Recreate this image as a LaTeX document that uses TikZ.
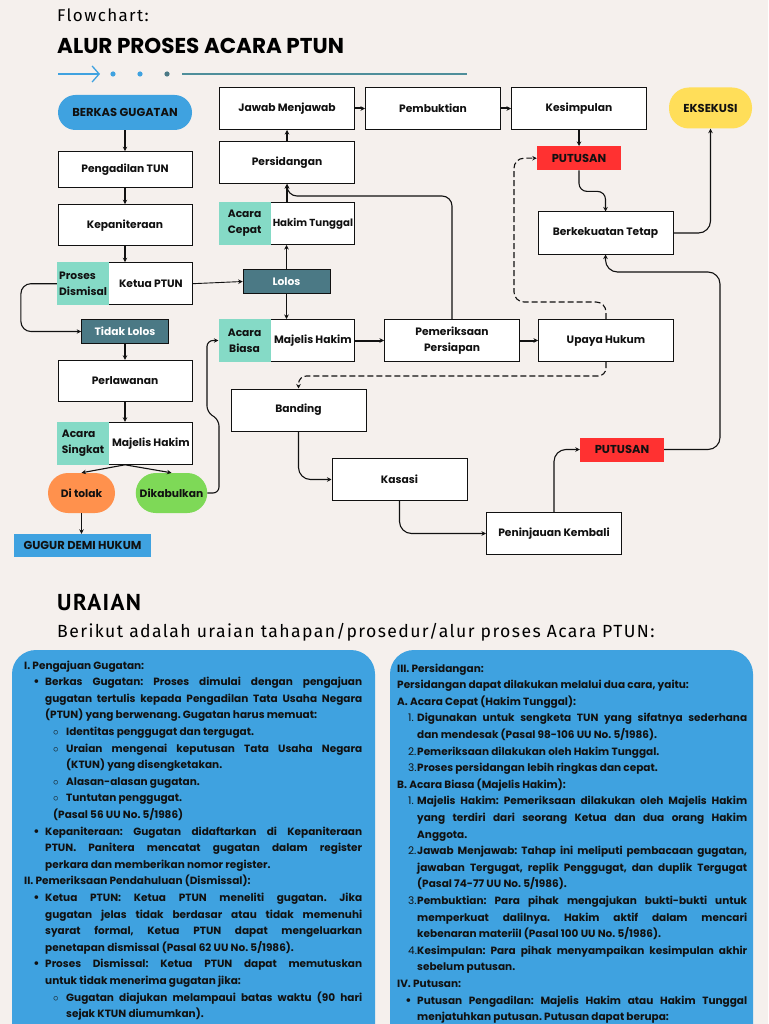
\documentclass[tikz,border=0pt]{standalone}
\usepackage{fontspec}
\setmainfont{Poppins}
\newfontfamily\kickerfont{Fira Sans}[LetterSpace=8]
\newfontfamily\headfont{PT Sans}[LetterSpace=6]
\newfontfamily\symfont{DejaVu Sans}
\usepackage{xcolor}
\usetikzlibrary{arrows.meta,positioning,calc}
\definecolor{pagebg}{HTML}{F5F0ED}
\definecolor{skyblue}{HTML}{3FA2E0}
\definecolor{deepteal}{HTML}{4B7985}
\definecolor{ruleteal}{HTML}{4E8E9A}
\definecolor{mintbg}{HTML}{85DAC6}
\definecolor{orangebg}{HTML}{FF914D}
\definecolor{greenbg}{HTML}{7ED957}
\definecolor{yellowbg}{HTML}{FFDE59}
\definecolor{alertred}{HTML}{FF3131}
\definecolor{inkc}{HTML}{111111}
\frenchspacing
% one line of the text panels, stretched or plain
\newcommand{\rowj}[5]{\node[row] (#1) at (#2,#3) {\makebox[#4pt][s]{#5}};}
\newcommand{\rowl}[4]{\node[row] (#1) at (#2,#3) {#4};}
\newcommand{\dotb}{\makebox[12pt][l]{{\symfont •}}}
\newcommand{\ringb}{\makebox[13pt][l]{$\circ$}}
\newcommand{\numb}[1]{\makebox[9pt][l]{\mdseries #1}}

\begin{document}
\begin{tikzpicture}[x=1pt,y=-1pt,
		lbl/.style={font=\bfseries\fontsize{10.7}{16}\selectfont,text=inkc},
		caps/.style={font=\bfseries\fontsize{11.5}{14}\selectfont},
		box/.style={lbl,draw=inkc,line width=1pt,fill=white,minimum width=135pt,
				minimum height=42pt,inner sep=2pt,align=center},
		pill/.style={lbl,minimum height=40pt,inner sep=4pt,rounded corners=20pt},
		part/.style={lbl,fill=mintbg,minimum width=52pt,minimum height=43pt,inner sep=2pt,
				anchor=west,align=center},
		gate/.style={lbl,draw=inkc,line width=0.6pt,fill=deepteal,text=white,
				minimum width=87pt,minimum height=24pt,inner sep=1pt},
		verdict/.style={lbl,caps,fill=alertred,minimum width=84pt,minimum height=24pt,inner sep=1pt},
		ln/.style={-{Stealth[length=4.5pt,width=4.5pt]},draw=inkc,line width=1.1pt},
		heavy/.style={ln,line width=2pt},
		appeal/.style={ln,dash pattern=on 6pt off 3pt},
		row/.style={anchor=base west,inner sep=0pt,font=\bfseries\fontsize{10.5}{12}\selectfont,text=inkc}
		]
		\useasboundingbox (0,0) rectangle (768,1024);
		\fill[pagebg] (0,0) rectangle (768,1024);
		\clip (0,0) rectangle (768,1024);

		% header
		\node[anchor=west,inner sep=0pt,font=\kickerfont\fontsize{17}{20}\selectfont] (kicker) at (57,15) {Flowchart:};
		\node[anchor=west,inner sep=0pt,font=\bfseries\fontsize{21.5}{24}\selectfont] (title) at (57,46) {ALUR PROSES ACARA PTUN};
		\draw[skyblue,line width=1.3pt,-{Straight Barb[length=7pt,width=16pt]}] (58,74) -- (100,74);
		\fill[skyblue] (113,74) circle (2.6);
		\fill[skyblue] (140,74) circle (2.6);
		\fill[deepteal] (167,74) circle (2.6);
		\draw[ruleteal,line width=1.3pt] (182,74) -- (467,74);

		% left column
		\node[pill,caps,fill=skyblue,minimum width=134pt,minimum height=35pt,rounded corners=17.5pt] (berkas) at (125,112.5) {BERKAS GUGATAN};
		\node[box,minimum width=134pt,minimum height=36pt,below=21pt of berkas] (pengadilan) {Pengadilan TUN};
		\node[box,minimum width=134pt,minimum height=41pt,below=16pt of pengadilan] (kepaniteraan) {Kepaniteraan};
		\node[box,minimum width=134pt,below=16pt of kepaniteraan] (ketua) {};
		\node[part,align=left] (dismisal) at ([xshift=-0.6pt]ketua.west) {Proses\\Dismisal};
		\node[lbl] (ketuaname) at ($(dismisal.east)!.5!(ketua.east)$) {Ketua PTUN};
		\node[gate,below=14pt of ketua] (tidaklolos) {Tidak Lolos};
		\node[box,minimum width=134pt,minimum height=41pt,below=16pt of tidaklolos] (perlawanan) {Perlawanan};
		\node[box,minimum width=134pt,below=20pt of perlawanan] (singkat) {};
		\node[part,align=left] (singkattag) at ([xshift=-0.6pt]singkat.west) {Acara\\Singkat};
		\node[lbl] (singkatname) at ($(singkattag.east)!.5!(singkat.east)$) {Majelis Hakim};
		\node[pill,fill=orangebg,minimum width=67pt] (ditolak) at (81.5,493) {Di tolak};
		\node[pill,fill=greenbg,minimum width=69pt] (dikabulkan) at (171.5,493) {Dikabulkan};
		\node[lbl,caps,fill=skyblue,minimum width=137pt,minimum height=23pt,inner sep=1pt] (gugur) at (82.5,545.5) {GUGUR DEMI HUKUM};

		% middle and right
		\node[box] (tunggal) at (287,223.5) {};
		\node[part] (cepat) at ([xshift=-0.6pt]tunggal.west) {Acara\\Cepat};
		\node[lbl,font=\bfseries\fontsize{10.2}{14}\selectfont] (tunggalname) at ($(cepat.east)!.5!(tunggal.east)$) {Hakim Tunggal};
		\node[box,above=18pt of tunggal] (persidangan) {Persidangan};
		\node[box,above=11pt of persidangan] (jawab) {Jawab Menjawab};
		\node[box,right=10pt of jawab] (pembuktian) {Pembuktian};
		\node[box,right=10pt of pembuktian] (kesimpulan) {Kesimpulan};
		\node[pill,caps,fill=yellowbg,minimum width=83pt,minimum height=41pt] (eksekusi) at (710.5,108) {EKSEKUSI};
		\node[verdict,below=16pt of kesimpulan] (putusanatas) {PUTUSAN};
		\node[box] (berkekuatan) at (605.5,233) {Berkekuatan Tetap};
		\node[gate] (lolos) at (286.5,281.5) {Lolos};
		\node[box] (biasa) at (287,340.5) {};
		\node[part] (biasatag) at ([xshift=-0.6pt]biasa.west) {Acara\\Biasa};
		\node[lbl] (biasaname) at ($(biasatag.east)!.5!(biasa.east)$) {Majelis Hakim};
		\node[box,right=29pt of biasa] (pemeriksaan) {Pemeriksaan\\Persiapan};
		\node[box,right=18pt of pemeriksaan] (upaya) {Upaya Hukum};
		\node[box] (banding) at (298.5,410) {Banding};
		\node[box] (kasasi) at (399.5,479.5) {Kasasi};
		\node[box] (peninjauan) at (554,533.5) {Peninjauan Kembali};
		\node[verdict] (putusanbawah) at (622,449.5) {PUTUSAN};

		\draw[ln] (berkas) -- (pengadilan);
		\draw[ln] (pengadilan) -- (kepaniteraan);
		\draw[ln] (kepaniteraan) -- (ketua);
		\draw[ln,rounded corners=10pt] (dismisal.west) -- ++(-36,0) |- (tidaklolos.west);
		\draw[ln] (tidaklolos) -- (perlawanan);
		\draw[ln] (perlawanan) -- (singkat);
		\draw[ln] (singkat.south) -- (ditolak.north);
		\draw[ln] (singkat.south) -- (dikabulkan.north);
		\draw[ln] (ditolak.south) -- (ditolak.south |- gugur.north);
		\draw[ln,rounded corners=6pt] (dikabulkan.east) -| (219,420) -- (207,412) |- (biasatag.west);
		\draw[ln,line width=0.9pt] (ketua.east) -- (lolos.west);
		\draw[ln] (lolos.north) -- (lolos.north |- tunggal.south);
		\draw[ln] (lolos.south) -- (lolos.south |- biasa.north);
		\draw[ln] (tunggal.north) -- (tunggal.north |- persidangan.south);
		\draw[ln] (persidangan) -- (jawab);
		\draw[heavy] (jawab) -- (pembuktian);
		\draw[heavy] (pembuktian) -- (kesimpulan);
		\draw[ln] (kesimpulan) -- (putusanatas);
		\draw[ln,rounded corners=8pt] (putusanatas.south) -- ++(0,21) -| (berkekuatan.north);
		\draw[ln,rounded corners=12pt] (berkekuatan.east) -| (eksekusi.south);
		\draw[ln,rounded corners=10pt] (pemeriksaan.north) -- ++(0,-123) -| (persidangan.south);
		\draw[heavy] (biasa) -- (pemeriksaan);
		\draw[heavy] (pemeriksaan) -- (upaya);
		\draw[appeal,rounded corners=10pt] (upaya.north) |- (514,302) |- (putusanatas.west);
		\draw[appeal,rounded corners=8pt] (upaya.south) -- ++(0,14) -| (banding.north);
		\draw[ln,rounded corners=12pt] (banding.south) |- (kasasi.west);
		\draw[ln,rounded corners=12pt] (kasasi.south) |- (peninjauan.west);
		\draw[ln,rounded corners=12pt] (peninjauan.north) |- (putusanbawah.west);
		\draw[ln,rounded corners=12pt] (putusanbawah.east) -| (720,272) -| (berkekuatan.south);

		% uraian
		\node[anchor=west,inner sep=0pt,font=\headfont\bfseries\fontsize{23}{26}\selectfont] (uraian) at (57,602) {URAIAN};
		\node[anchor=west,inner sep=0pt,font=\kickerfont\fontsize{17.6}{20}\selectfont] (intro) at (57,632) {Berikut adalah uraian tahapan/prosedur/alur proses Acara PTUN:};
		\fill[skyblue,rounded corners=24pt] (12,650) rectangle (375,1070);
		\fill[skyblue,rounded corners=24pt] (390,650) rectangle (753,1070);

		\rowl{u1}{24}{669.0}{I. Pengajuan Gugatan:}
		\rowj{u2}{33}{685.6}{329}{\dotb Berkas Gugatan: Proses dimulai dengan pengajuan}
		\rowj{u3}{45}{702.2}{317}{gugatan tertulis kepada Pengadilan Tata Usaha Negara}
		\rowl{u4}{45}{718.8}{(PTUN) yang berwenang. Gugatan harus memuat:}
		\rowl{u5}{53}{735.4}{\ringb Identitas penggugat dan tergugat.}
		\rowj{u6}{53}{752.0}{309}{\ringb Uraian mengenai keputusan Tata Usaha Negara}
		\rowl{u7}{66}{768.6}{(KTUN) yang disengketakan.}
		\rowl{u8}{53}{785.2}{\ringb Alasan-alasan gugatan.}
		\rowl{u9}{53}{801.8}{\ringb Tuntutan penggugat.}
		\rowl{u10}{53}{818.4}{(Pasal 56 UU No. 5/1986)}
		\rowj{u11}{33}{835.0}{329}{\dotb Kepaniteraan: Gugatan didaftarkan di Kepaniteraan}
		\rowj{u12}{45}{851.6}{317}{PTUN. Panitera mencatat gugatan dalam register}
		\rowl{u13}{45}{868.2}{perkara dan memberikan nomor register.}
		\rowl{u14}{24}{884.8}{II. Pemeriksaan Pendahuluan (Dismissal):}
		\rowj{u15}{33}{901.4}{329}{\dotb Ketua PTUN: Ketua PTUN meneliti gugatan. Jika}
		\rowj{u16}{45}{918.0}{317}{gugatan jelas tidak berdasar atau tidak memenuhi}
		\rowj{u17}{45}{934.6}{317}{syarat formal, Ketua PTUN dapat mengeluarkan}
		\rowl{u18}{45}{951.2}{penetapan dismissal (Pasal 62 UU No. 5/1986).}
		\rowj{u19}{33}{967.8}{329}{\dotb Proses Dismissal: Ketua PTUN dapat memutuskan}
		\rowl{u20}{45}{984.4}{untuk tidak menerima gugatan jika:}
		\rowj{u21}{53}{1001.0}{309}{\ringb Gugatan diajukan melampaui batas waktu (90 hari}
		\rowl{u22}{66}{1017.6}{sejak KTUN diumumkan).}

		\rowl{v1}{397}{672.0}{III. Persidangan:}
		\rowl{v2}{397}{688.6}{Persidangan dapat dilakukan melalui dua cara, yaitu:}
		\rowl{v3}{397}{705.2}{A. Acara Cepat (Hakim Tunggal):}
		\rowj{v4}{408}{721.8}{339}{\numb{1.}Digunakan untuk sengketa TUN yang sifatnya sederhana}
		\rowl{v5}{417}{738.4}{dan mendesak (Pasal 98-106 UU No. 5/1986).}
		\rowl{v6}{408}{755.0}{\numb{2.}Pemeriksaan dilakukan oleh Hakim Tunggal.}
		\rowl{v7}{408}{771.6}{\numb{3.}Proses persidangan lebih ringkas dan cepat.}
		\rowl{v8}{397}{788.2}{B. Acara Biasa (Majelis Hakim):}
		\rowj{v9}{408}{804.8}{339}{\numb{1.}Majelis Hakim: Pemeriksaan dilakukan oleh Majelis Hakim}
		\rowj{v10}{417}{821.4}{330}{yang terdiri dari seorang Ketua dan dua orang Hakim}
		\rowl{v11}{417}{838.0}{Anggota.}
		\rowj{v12}{408}{854.6}{339}{\numb{2.}Jawab Menjawab: Tahap ini meliputi pembacaan gugatan,}
		\rowj{v13}{417}{871.2}{330}{jawaban Tergugat, replik Penggugat, dan duplik Tergugat}
		\rowl{v14}{417}{887.8}{(Pasal 74-77 UU No. 5/1986).}
		\rowj{v15}{408}{904.4}{339}{\numb{3.}Pembuktian: Para pihak mengajukan bukti-bukti untuk}
		\rowj{v16}{417}{921.0}{330}{memperkuat dalilnya. Hakim aktif dalam mencari}
		\rowl{v17}{417}{937.6}{kebenaran materiil (Pasal 100 UU No. 5/1986).}
		\rowj{v18}{408}{954.2}{339}{\numb{4.}Kesimpulan: Para pihak menyampaikan kesimpulan akhir}
		\rowl{v19}{417}{970.8}{sebelum putusan.}
		\rowl{v20}{397}{987.4}{IV. Putusan:}
		\rowj{v21}{405}{1004.0}{342}{\dotb Putusan Pengadilan: Majelis Hakim atau Hakim Tunggal}
		\rowl{v22}{417}{1020.6}{menjatuhkan putusan. Putusan dapat berupa:}
	\end{tikzpicture}
\end{document}
